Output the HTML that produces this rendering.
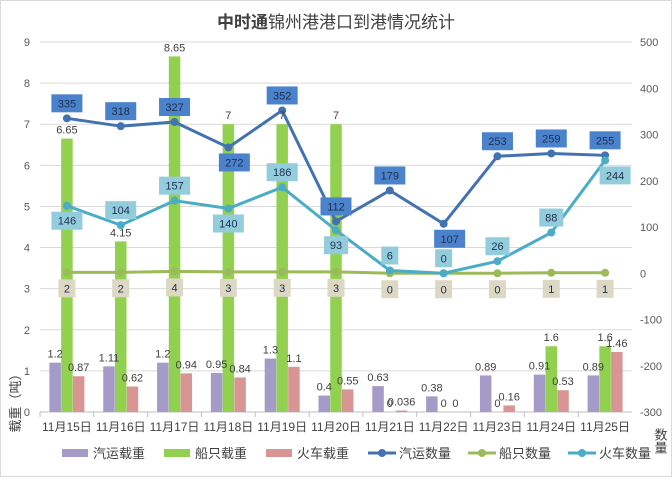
<!DOCTYPE html>
<html><head><meta charset="utf-8"><style>
body{margin:0;background:#fff;font-family:"Liberation Sans","Noto Sans CJK SC",sans-serif;}
svg text{font-family:"Liberation Sans","Noto Sans CJK SC",sans-serif;}
</style></head><body>
<svg id="c" width="672" height="477" xmlns="http://www.w3.org/2000/svg">
<rect x="0.5" y="0.5" width="671" height="476" fill="#fff" stroke="#d9d9d9"/>
<text x="336" y="28" text-anchor="middle" font-size="17" fill="#404040"><tspan font-weight="bold">中时通</tspan>锦州港港口到港情况统计</text>
<g id="grid"></g><g id="bars"></g><g id="lines"></g><g id="labels"></g><g id="axes"></g>
<text transform="translate(20,400) rotate(-90)" text-anchor="middle" font-size="13" fill="#404040">载重（吨）</text>
<text x="660" y="428" font-size="13" fill="#404040" writing-mode="tb">数量</text>
<g id="legend"></g>
</svg>
<script>
const categories=["11月15日","11月16日","11月17日","11月18日","11月19日","11月20日","11月21日","11月22日","11月23日","11月24日","11月25日"];
const truckLoad=[1.2,1.11,1.2,0.95,1.3,0.4,0.63,0.38,0.89,0.91,0.89];
const shipLoad=[6.65,4.15,8.65,7,7,7,0,0,0,1.6,1.6];
const trainLoad=[0.87,0.62,0.94,0.84,1.1,0.55,0.036,0,0.16,0.53,1.46];
const truckCount=[335,318,327,272,352,112,179,107,253,259,255];
const shipCount=[2,2,4,3,3,3,0,0,0,1,1];
const trainCount=[146,104,157,140,186,93,6,0,26,88,244];
const leftTicks=[0,1,2,3,4,5,6,7,8,9];
const rightTicks=[-300,-200,-100,0,100,200,300,400,500];
const truckDir=[-1,-1,-1,1,-1,-1,-1,1,-1,-1,-1];
const trainDir=[1,-1,-1,1,-1,1,-1,-1,-1,-1,1];
const NS="http://www.w3.org/2000/svg";
const X0=40,X1=632,Y0=412,Y1=42;
const gw=(X1-X0)/categories.length;
const xc=i=>X0+gw*(i+0.5);
const yL=v=>Y0-(v/9)*(Y0-Y1);
const yR=v=>Y0-((v+300)/800)*(Y0-Y1);
function mk(t,a,p){const e=document.createElementNS(NS,t);for(const k in a)e.setAttribute(k,a[k]);document.getElementById(p).appendChild(e);return e;}
leftTicks.forEach(t=>{
 const l=mk('line',{x1:X0,x2:X1,y1:yL(t),y2:yL(t),stroke:t===0?'#bfbfbf':'#d9d9d9'},'grid');
 
 
 const tx=mk('text',{x:30,y:yL(t)+4,'text-anchor':'end','font-size':11,fill:'#595959'},'axes');tx.textContent=t;
 
 
});
rightTicks.forEach(t=>{
 const tx=mk('text',{x:640,y:yR(t)+4,'font-size':11,fill:'#595959'},'axes');tx.textContent=t;
 
 
});
categories.forEach((c,i)=>{
 const tx=mk('text',{x:xc(i),y:431,'text-anchor':'middle','font-size':12,fill:'#404040'},'axes');tx.textContent=c;
 
 
 const tk=mk('line',{x1:X0+gw*i,x2:X0+gw*i,y1:Y0,y2:Y0+5,stroke:'#bfbfbf'},'axes');
 
 
});
const bw=11.5;
const barSeries=[[truckLoad,'#a59bc8',-17.5,'truck-load-bar'],[shipLoad,'#92d050',-5.75,'ship-load-bar'],[trainLoad,'#d99594',6,'train-load-bar']];
barSeries.forEach(([arr,col,off,nm])=>{
 arr.forEach((v,i)=>{
  const r=mk('rect',{x:xc(i)+off,y:yL(v),width:bw,height:Y0-yL(v),fill:col},'bars');
  
  
  const t=mk('text',{x:xc(i)+off+bw/2,y:yL(v)-5,'text-anchor':'middle','font-size':11,fill:'#404040'},'labels');t.textContent=v;
  
  
 });
});
function line(arr,col,nm){
 const p=mk('polyline',{points:arr.map((v,i)=>xc(i)+','+yR(v)).join(' '),fill:'none',stroke:col,'stroke-width':3},'lines');
 
 
 arr.forEach((v,i)=>{const c=mk('circle',{cx:xc(i),cy:yR(v),r:4,fill:col},'lines');
  
  });
}
line(shipCount,'#9bbb59','ship-count');
line(truckCount,'#4372b0','truck-count');
line(trainCount,'#4bacc6','train-count');
function box(x,y,txt,bg,nm){
 const w=txt.length*7+10;
 const r=mk('rect',{x:x-w/2,y:y-9,width:w,height:18,fill:bg},'labels');
 
 
 const t=mk('text',{x:x,y:y+4,'text-anchor':'middle','font-size':11,fill:'#1f2f4f'},'labels');t.textContent=txt;
 
 
}
shipCount.forEach((v,i)=>box(xc(i),yR(v)+16,String(v),'#ddd8c4','ship-count-label'));
trainCount.forEach((v,i)=>box(xc(i)+(i===10?10:0),yR(v)+trainDir[i]*15,String(v),'#93cddd','train-count-label'));
truckCount.forEach((v,i)=>box(xc(i)+(truckDir[i]>0?6:0),yR(v)+truckDir[i]*15,String(v),'#4a82cc','truck-count-label'));
const leg=[['汽运载重','#a59bc8','bar'],['船只载重','#92d050','bar'],['火车载重','#d99594','bar'],['汽运数量','#4372b0','line'],['船只数量','#9bbb59','line'],['火车数量','#4bacc6','line']];
const lx=[62,164,266,368,468,568];
leg.forEach(([n,c,k],i)=>{
 const x=lx[i];
 if(k==='bar'){const r=mk('rect',{x:x,y:449,width:26,height:8,fill:c},'legend');}
 else{mk('line',{x1:x,x2:x+28,y1:453,y2:453,stroke:c,'stroke-width':3},'legend');const cc=mk('circle',{cx:x+14,cy:453,r:4,fill:c},'legend');}
 const t=mk('text',{x:x+31,y:458,'font-size':13,fill:'#404040'},'legend');t.textContent=n;
 
 
});
</script>
</body></html>
